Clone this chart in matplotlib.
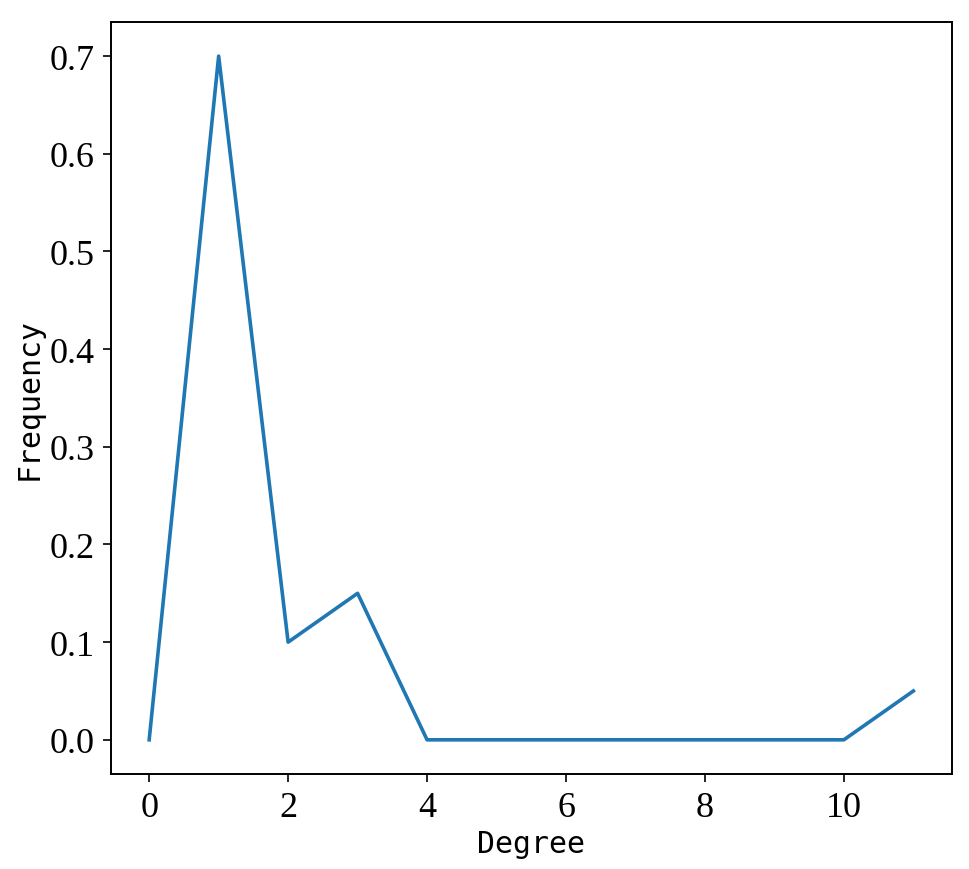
import matplotlib
matplotlib.use('Agg')
import matplotlib.pyplot as plt

plt.rcParams['font.family'] = ['Liberation Serif']

# degree distribution
degree = [0, 1, 2, 3, 4, 5, 6, 7, 8, 9, 10, 11]
frequency = [0.0, 0.7, 0.1, 0.15, 0.0, 0.0, 0.0, 0.0, 0.0, 0.0, 0.0, 0.05]

fig = plt.figure(figsize=(9.7, 8.7), dpi=100)
ax = fig.add_axes([0.1144, 0.1092, 0.8666, 0.8644])

ax.plot(degree, frequency, color='#1f77b4', linewidth=2.6)

ax.set_xticks([0, 2, 4, 6, 8, 10])
ax.set_yticks([0.0, 0.1, 0.2, 0.3, 0.4, 0.5, 0.6, 0.7])
ax.tick_params(length=6, width=1.2, pad=6, labelsize=26)
for s in ax.spines.values():
    s.set_linewidth(1.4)

ax.set_xlabel('Degree', fontfamily='DejaVu Sans Mono', fontsize=21.5)
ax.set_ylabel('Frequency', fontfamily='DejaVu Sans Mono', fontsize=21.5)

plt.savefig('out.png')
